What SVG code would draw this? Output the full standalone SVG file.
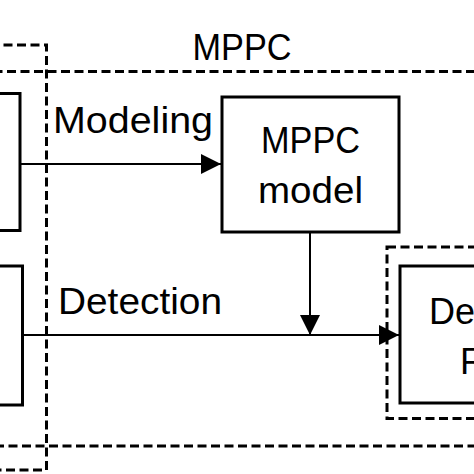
<svg xmlns="http://www.w3.org/2000/svg" width="474" height="474" viewBox="0 0 474 474">
<style>
.dash{fill:none;stroke:#000;stroke-width:3;stroke-dasharray:9 4.5}
.box{fill:#fff;stroke:#000;stroke-width:3}
.conn{fill:none;stroke:#000;stroke-width:2}
text{font-family:"Liberation Sans",Arial,sans-serif;font-size:36px;fill:#000}
</style>
<defs>
<marker id="ah" viewBox="0 0 20 20" refX="20" refY="10" markerWidth="20" markerHeight="20" markerUnits="userSpaceOnUse" orient="auto">
<path d="M0,0 L20,10 L0,20 Z" fill="#000"/>
</marker>
</defs>
<rect width="474" height="474" fill="#fff"/>
<g id="outer-left">
<path class="dash" d="M-10,45 H46.5 V470 H-10"/>
</g>
<g id="mppc-group">
<rect class="dash" x="-20" y="71.5" width="520" height="374.5"/>
<text x="242" y="60" text-anchor="middle" textLength="99" lengthAdjust="spacingAndGlyphs">MPPC</text>
</g>
<g id="left-box-1">
<rect class="box" x="-20" y="93.5" width="40" height="137"/>
</g>
<g id="left-box-2">
<rect class="box" x="-20" y="266" width="42.5" height="139"/>
</g>
<g id="mppc-model">
<rect class="box" x="222" y="97" width="177" height="135"/>
<text x="310.5" y="153" text-anchor="middle" textLength="99" lengthAdjust="spacingAndGlyphs">MPPC</text>
<text x="310.5" y="203" text-anchor="middle" textLength="105" lengthAdjust="spacingAndGlyphs">model</text>
</g>
<g id="detection-result">
<rect class="dash" x="387" y="247" width="100" height="171.5"/>
<rect class="box" x="400" y="266" width="90" height="137"/>
<text x="429" y="324" font-size="34">De</text>
<text x="460" y="374">R</text>
</g>
<g id="connectors">
<line class="conn" x1="20" y1="164" x2="221" y2="164" marker-end="url(#ah)"/>
<line class="conn" x1="310" y1="232" x2="310" y2="335" marker-end="url(#ah)"/>
<line class="conn" x1="22" y1="335" x2="399" y2="335" marker-end="url(#ah)"/>
<text x="53" y="133" textLength="160" lengthAdjust="spacingAndGlyphs">Modeling</text>
<text x="58" y="314" textLength="164" lengthAdjust="spacingAndGlyphs">Detection</text>
</g>
</svg>
